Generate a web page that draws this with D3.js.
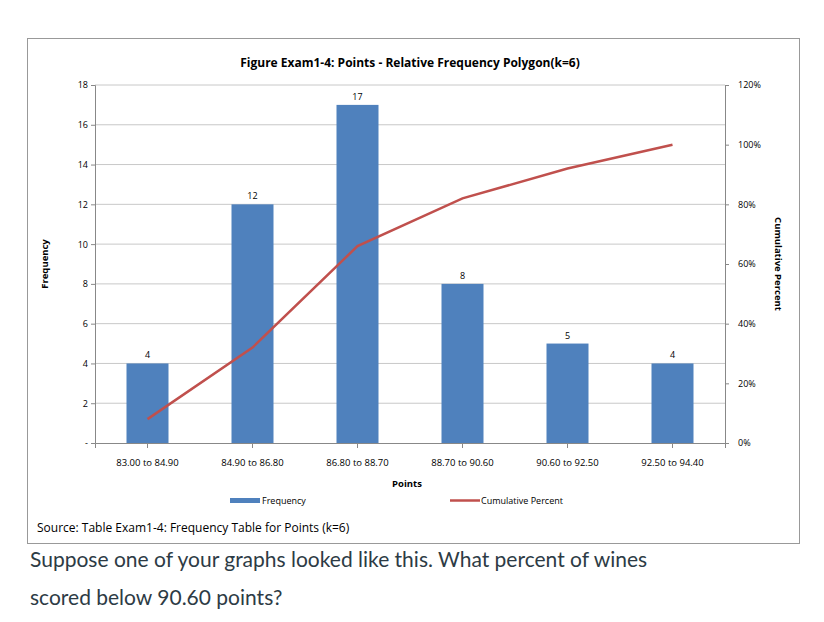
<!DOCTYPE html>
<html><head><meta charset="utf-8">
<script src="https://cdn.jsdelivr.net/npm/d3@7"></script>
<style>body{margin:0;background:#fff;font-family:Lato,"Open Sans",sans-serif}</style>
</head><body><svg id="c" width="824" height="622"></svg>
<script>
const categories=["83.00 to 84.90","84.90 to 86.80","86.80 to 88.70","88.70 to 90.60","90.60 to 92.50","92.50 to 94.40"];
const frequency=[4,12,17,8,5,4];
const cumulative=[0.08,0.32,0.66,0.82,0.92,1.00];
const leftTicks=[0,2,4,6,8,10,12,14,16,18];
const rightTicks=[0,0.2,0.4,0.6,0.8,1.0,1.2];
const svg=d3.select("#c");
const F="'Open Sans',sans-serif";
svg.append("rect").attr("x",27.5).attr("y",38.5).attr("width",772).attr("height",505).attr("fill","#fff").attr("stroke","#999");
const L=95,R=725,T=85,B=443;
const x=d3.scaleBand().domain(categories).range([L,R]).paddingInner(0.6).paddingOuter(0.3);
const xb=d3.scaleBand().domain(categories).range([L,R]);
const y=d3.scaleLinear().domain([0,18]).range([B,T]);
const y2=d3.scaleLinear().domain([0,1.2]).range([B,T]);
svg.append("g").selectAll("line").data(leftTicks.slice(1)).join("line").attr("x1",L).attr("x2",R).attr("y1",d=>y(d)).attr("y2",d=>y(d)).attr("stroke","#c8c8c8");
svg.append("g").selectAll("rect").data(frequency).join("rect").attr("x",(d,i)=>xb(categories[i])+xb.bandwidth()/2-21).attr("width",42).attr("y",d=>y(d)).attr("height",d=>B-y(d)).attr("fill","#4f81bd");
svg.append("g").selectAll("text").data(frequency).join("text").attr("x",(d,i)=>xb(categories[i])+xb.bandwidth()/2).attr("y",d=>y(d)-5).attr("text-anchor","middle").attr("font-size",9).attr("font-family",F).text(d=>d);
const ax=svg.append("g").attr("transform",`translate(${L},0)`).call(d3.axisLeft(y).tickValues(leftTicks).tickSize(4).tickFormat(d=>d===0?"-":d));
const ax2=svg.append("g").attr("transform",`translate(${R},0)`).call(d3.axisRight(y2).tickValues(rightTicks).tickSize(4).tickFormat(d3.format(".0%")));
const axb=svg.append("g").attr("transform",`translate(0,${B})`).call(d3.axisBottom(xb).tickSize(5).tickFormat(""));
[ax,ax2,axb].forEach(a=>{a.selectAll("path,line").attr("stroke","#888");a.selectAll("text").attr("font-size",9).attr("font-family",F).attr("fill","#000");});
ax2.selectAll("text").attr("dx",6);
svg.append("g").selectAll("text").data(categories).join("text").attr("x",d=>xb(d)+xb.bandwidth()/2).attr("y",466).attr("text-anchor","middle").attr("font-size",9.5).attr("font-family",F).text(d=>d);
const line=d3.line().x((d,i)=>xb(categories[i])+xb.bandwidth()/2).y(d=>y2(d));
svg.append("path").datum(cumulative).attr("d",line).attr("fill","none").attr("stroke","#c0504d").attr("stroke-width",2.5);
svg.append("text").attr("x",410).attr("y",67).attr("text-anchor","middle").attr("font-size",12).attr("font-weight","bold").attr("font-family",F).text("Figure Exam1-4: Points - Relative Frequency Polygon(k=6)");
svg.append("text").attr("x",407).attr("y",487).attr("text-anchor","middle").attr("font-size",9.5).attr("font-weight","bold").attr("font-family",F).text("Points");
svg.append("text").attr("transform","translate(48,264) rotate(-90)").attr("text-anchor","middle").attr("font-size",9.5).attr("font-weight","bold").attr("font-family",F).text("Frequency");
svg.append("text").attr("transform","translate(775,264) rotate(90)").attr("text-anchor","middle").attr("font-size",9.5).attr("font-weight","bold").attr("font-family",F).text("Cumulative Percent");
svg.append("rect").attr("x",230).attr("y",498).attr("width",30).attr("height",5).attr("fill","#4f81bd");
svg.append("text").attr("x",262).attr("y",504).attr("font-size",9).attr("font-family",F).text("Frequency");
svg.append("line").attr("x1",450).attr("x2",480).attr("y1",500.5).attr("y2",500.5).attr("stroke","#c0504d").attr("stroke-width",2.5);
svg.append("text").attr("x",481).attr("y",504).attr("font-size",9).attr("font-family",F).text("Cumulative Percent");
svg.append("text").attr("x",37).attr("y",532).attr("font-size",12).attr("font-family",F).text("Source: Table Exam1-4: Frequency Table for Points (k=6)");
svg.append("text").attr("x",30).attr("y",567).attr("font-size",21).attr("fill","#2d3b45").attr("font-family","Lato,sans-serif").text("Suppose one of your graphs looked like this. What percent of wines");
svg.append("text").attr("x",30).attr("y",605).attr("font-size",21).attr("fill","#2d3b45").attr("font-family","Lato,sans-serif").text("scored below 90.60 points?");
</script></body></html>
